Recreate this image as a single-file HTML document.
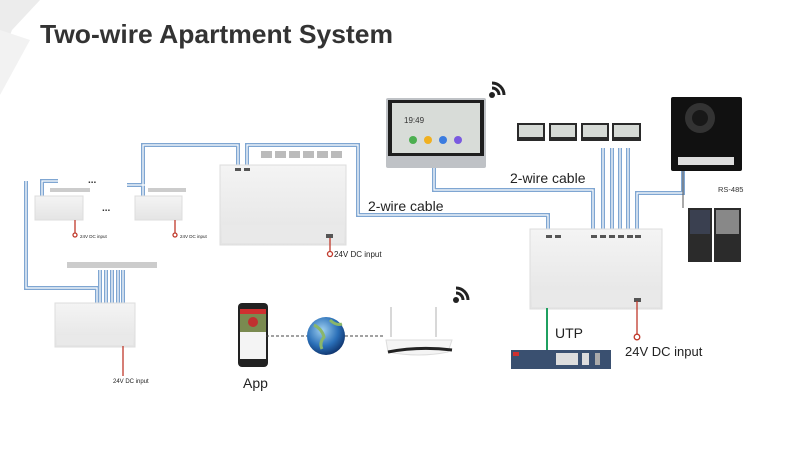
<!DOCTYPE html>
<html><head><meta charset="utf-8"><style>
html,body{margin:0;padding:0;background:#fff}
svg{display:block}
text{font-family:"Liberation Sans",sans-serif}
</style></head><body>
<svg width="798" height="450" viewBox="0 0 798 450" xmlns="http://www.w3.org/2000/svg">
<defs>
<linearGradient id="box" x1="0" y1="0" x2="0" y2="1"><stop offset="0" stop-color="#f4f4f4"/><stop offset="1" stop-color="#e4e4e4"/></linearGradient>
<radialGradient id="gl" cx="0.4" cy="0.35" r="0.7"><stop offset="0" stop-color="#9fd0f0"/><stop offset="0.6" stop-color="#2a6fb8"/><stop offset="1" stop-color="#0d2f66"/></radialGradient>
<g id="wifi"><circle cx="0" cy="0" r="3" fill="#222"/><path d="M0,-7 A7,7 0 0 1 7,0" stroke="#222" stroke-width="3" fill="none"/><path d="M0,-12 A12,12 0 0 1 12,0" stroke="#222" stroke-width="3" fill="none"/></g>
</defs>
<polygon points="0,0 40,0 12,30 0,60" fill="#ececec"/>
<polygon points="0,30 30,40 0,95" fill="#f2f2f2"/>
<text x="40" y="43" font-size="26" font-weight="bold" fill="#333" textLength="353" lengthAdjust="spacingAndGlyphs">Two-wire Apartment System</text>

<!-- wires -->
<g fill="none" stroke="#7fa6d2" stroke-width="4">
<path d="M434,168 V190 H593 V236"/>
<path d="M683,170 V193 H637 V236"/>
<path d="M603,148 V236 M612,148 V236 M620,148 V236 M628,148 V236"/>
<path d="M247,170 V145 H358 V215 H548 V236"/>
<path d="M238,170 V145 H143 V196"/>
<path d="M127,185 H145"/>
<path d="M42,196 V181 H58"/>
<path d="M26,181 V288 H97 V305"/>
<path d="M100,270 V305 M106,270 V305 M112,270 V305 M118,270 V305 M123,270 V305"/>
</g>
<g fill="none" stroke="#fff" stroke-width="1.2">
<path d="M434,168 V190 H593 V236"/>
<path d="M683,170 V193 H637 V236"/>
<path d="M603,148 V236 M612,148 V236 M620,148 V236 M628,148 V236"/>
<path d="M247,170 V145 H358 V215 H548 V236"/>
<path d="M238,170 V145 H143 V196"/>
<path d="M127,185 H145"/>
<path d="M42,196 V181 H58"/>
<path d="M26,181 V288 H97 V305"/>
<path d="M100,270 V305 M106,270 V305 M112,270 V305 M118,270 V305 M123,270 V305"/>
</g>
<text x="88" y="183" font-size="10" font-weight="bold" fill="#333">...</text>
<text x="102" y="211" font-size="10" font-weight="bold" fill="#333">...</text>

<!-- distributors -->
<rect x="220" y="165" width="126" height="80" fill="url(#box)" stroke="#ddd"/>
<rect x="222" y="225" width="122" height="18" fill="#e9e9e9"/>
<g fill="#bbb"><rect x="261" y="151" width="11" height="7"/><rect x="275" y="151" width="11" height="7"/><rect x="289" y="151" width="11" height="7"/><rect x="303" y="151" width="11" height="7"/><rect x="317" y="151" width="11" height="7"/><rect x="331" y="151" width="11" height="7"/></g>
<g fill="#555"><rect x="235" y="168" width="6" height="3"/><rect x="244" y="168" width="6" height="3"/><rect x="326" y="234" width="7" height="4"/></g>
<rect x="530" y="229" width="132" height="80" fill="url(#box)" stroke="#ddd"/>
<rect x="532" y="290" width="128" height="17" fill="#e9e9e9"/>
<g fill="#555"><rect x="546" y="235" width="6" height="3"/><rect x="555" y="235" width="6" height="3"/><rect x="591" y="235" width="6" height="3"/><rect x="600" y="235" width="6" height="3"/><rect x="609" y="235" width="6" height="3"/><rect x="618" y="235" width="6" height="3"/><rect x="627" y="235" width="6" height="3"/><rect x="635" y="235" width="6" height="3"/><rect x="634" y="298" width="7" height="4"/></g>
<rect x="35" y="196" width="48" height="24" fill="url(#box)" stroke="#ddd"/>
<rect x="135" y="196" width="47" height="24" fill="url(#box)" stroke="#ddd"/>
<g fill="#ccc"><rect x="50" y="188" width="40" height="4"/><rect x="148" y="188" width="38" height="4"/><rect x="67" y="262" width="90" height="6"/></g>
<rect x="55" y="303" width="80" height="44" fill="url(#box)" stroke="#ddd"/>
<rect x="57" y="335" width="76" height="10" fill="#e9e9e9"/>

<!-- red power -->
<g stroke="#c0392b" stroke-width="1.3" fill="#fff">
<path d="M330,238 V251"/><circle cx="330" cy="254" r="2.5"/>
<path d="M637,301 V334"/><circle cx="637" cy="337" r="2.8"/>
<path d="M75,220 V233"/><circle cx="75" cy="235" r="2"/>
<path d="M175,220 V233"/><circle cx="175" cy="235" r="2"/>
<path d="M123,346 V376"/>
</g>
<text x="334" y="257" font-size="8" fill="#222">24V DC input</text>
<text x="625" y="356" font-size="13" fill="#222">24V DC input</text>
<text x="80" y="238" font-size="4.5" fill="#222">24V DC input</text>
<text x="180" y="238" font-size="4.5" fill="#222">24V DC input</text>
<text x="113" y="383" font-size="6" fill="#222">24V DC input</text>

<!-- green UTP -->
<path d="M547,308 V350" stroke="#1fa060" stroke-width="2"/>
<text x="555" y="338" font-size="14" fill="#222">UTP</text>
<text x="368" y="211" font-size="14" fill="#222">2-wire cable</text>
<text x="510" y="183" font-size="14" fill="#222">2-wire cable</text>
<text x="718" y="192" font-size="7.5" fill="#333">RS-485</text>

<!-- monitor -->
<rect x="386" y="98" width="100" height="70" rx="2" fill="#bfc2c6"/>
<rect x="388" y="100" width="96" height="56" fill="#1e1e1e"/>
<rect x="392" y="103" width="88" height="50" fill="#d8dcd8"/>
<text x="404" y="123" font-size="8" fill="#333">19:49</text>
<circle cx="413" cy="140" r="4" fill="#4caf50"/><circle cx="428" cy="140" r="4" fill="#f0b020"/><circle cx="443" cy="140" r="4" fill="#3b7ce0"/><circle cx="458" cy="140" r="4" fill="#7a5ae0"/>
<use href="#wifi" x="492" y="95"/>
<!-- small monitors -->
<g fill="#2a2a2a"><rect x="517" y="123" width="28" height="18"/><rect x="549" y="123" width="28" height="18"/><rect x="581" y="123" width="28" height="18"/><rect x="612" y="123" width="29" height="18"/></g>
<g fill="#d6dad6"><rect x="519" y="125" width="24" height="12"/><rect x="551" y="125" width="24" height="12"/><rect x="583" y="125" width="24" height="12"/><rect x="614" y="125" width="25" height="12"/></g>
<!-- door station -->
<rect x="671" y="97" width="71" height="74" rx="2" fill="#111"/>
<circle cx="700" cy="118" r="15" fill="#333"/><circle cx="700" cy="118" r="8" fill="#181818"/>
<rect x="678" y="157" width="56" height="8" fill="#ddd"/>
<path d="M683,171 V208" stroke="#555" stroke-width="1"/>
<rect x="688" y="208" width="24" height="54" fill="#2b2b2b"/>
<rect x="714" y="208" width="27" height="54" fill="#2b2b2b"/>
<rect x="690" y="210" width="20" height="24" fill="#3a4050"/>
<rect x="716" y="210" width="23" height="24" fill="#888"/>

<!-- phone -->
<rect x="238" y="303" width="30" height="64" rx="4" fill="#222"/>
<rect x="240" y="309" width="26" height="50" fill="#f4f4f4"/>
<rect x="240" y="309" width="26" height="5" fill="#d03030"/>
<rect x="240" y="314" width="26" height="18" fill="#7a8a50"/>
<circle cx="253" cy="322" r="5" fill="#c03030"/>
<path d="M266,336 H310 M345,336 H385" stroke="#444" stroke-width="1" stroke-dasharray="3,2"/>
<circle cx="326" cy="336" r="19" fill="url(#gl)"/>
<path d="M314,325 q8,4 10,12 q-5,6 -2,12 M330,320 q6,6 12,4" stroke="#8ab66a" stroke-width="3" fill="none"/>
<!-- router -->
<path d="M391,337 V307 M436,337 V307" stroke="#ccc" stroke-width="1.5"/>
<path d="M386,340 H452 L448,352 Q419,358 388,352 Z" fill="#f4f4f4" stroke="#ddd"/>
<path d="M388,352 Q419,346 452,350" stroke="#222" stroke-width="3" fill="none"/>
<use href="#wifi" x="456" y="300"/>
<!-- switch -->
<rect x="511" y="350" width="100" height="19" fill="#3a5070"/>
<rect x="513" y="352" width="6" height="4" fill="#d03030"/>
<rect x="556" y="353" width="22" height="12" fill="#ddd"/>
<rect x="582" y="353" width="7" height="12" fill="#ddd"/>
<rect x="595" y="353" width="5" height="12" fill="#aaa"/>
<text x="243" y="388" font-size="14" fill="#222">App</text>
</svg>
</body></html>
